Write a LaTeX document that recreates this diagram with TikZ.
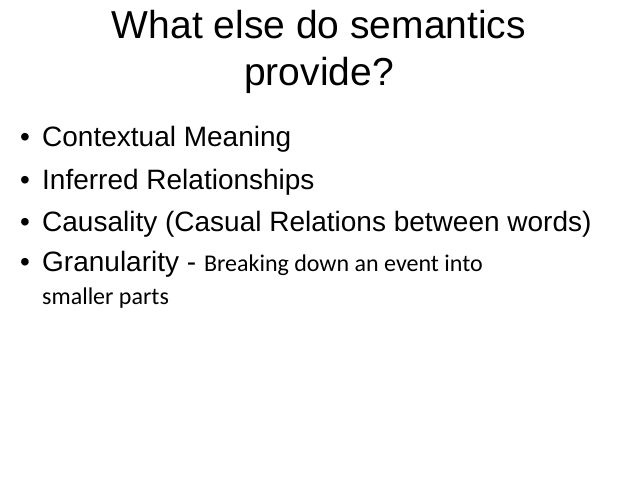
\documentclass[tikz,border=0pt]{standalone}
\usepackage{fontspec}
\setmainfont{Liberation Sans}
\newfontfamily\calfont{Carlito}
\begin{document}
\begin{tikzpicture}[x=1pt,y=-1pt,
  txt/.style={anchor=base west,inner sep=0pt,font=\fontsize{28}{32}\selectfont},
  bul/.style={anchor=base west,inner sep=0pt,font=\fontsize{28}{32}\selectfont}]
\useasboundingbox[fill=white] (0,0) rectangle (638,478);
\node[anchor=base,inner sep=0pt,font=\fontsize{39}{44}\selectfont] (t1) at (319,39) {What else do semantics};
\node[anchor=base,inner sep=0pt,font=\fontsize{39}{44}\selectfont] (t2) at (319,86) {provide?};
\foreach \y/\n in {147/b1,190/b2,232/b3,272/b4}
  \node[bul] (\n) at (20,\y) {•};
\node[txt] (l1) at (42,147) {Contextual Meaning};
\node[txt] (l2) at (42,190) {Inferred Relationships};
\node[txt] (l3) at (42,232) {Causality (Casual Relations between words)};
\node[txt] (l4) at (42,272) {Granularity - {\calfont\fontsize{24}{28}\selectfont Breaking down an event into}};
\node[txt,font=\calfont\fontsize{24}{28}\selectfont] (l5) at (42,305) {smaller parts};
\end{tikzpicture}
\end{document}
